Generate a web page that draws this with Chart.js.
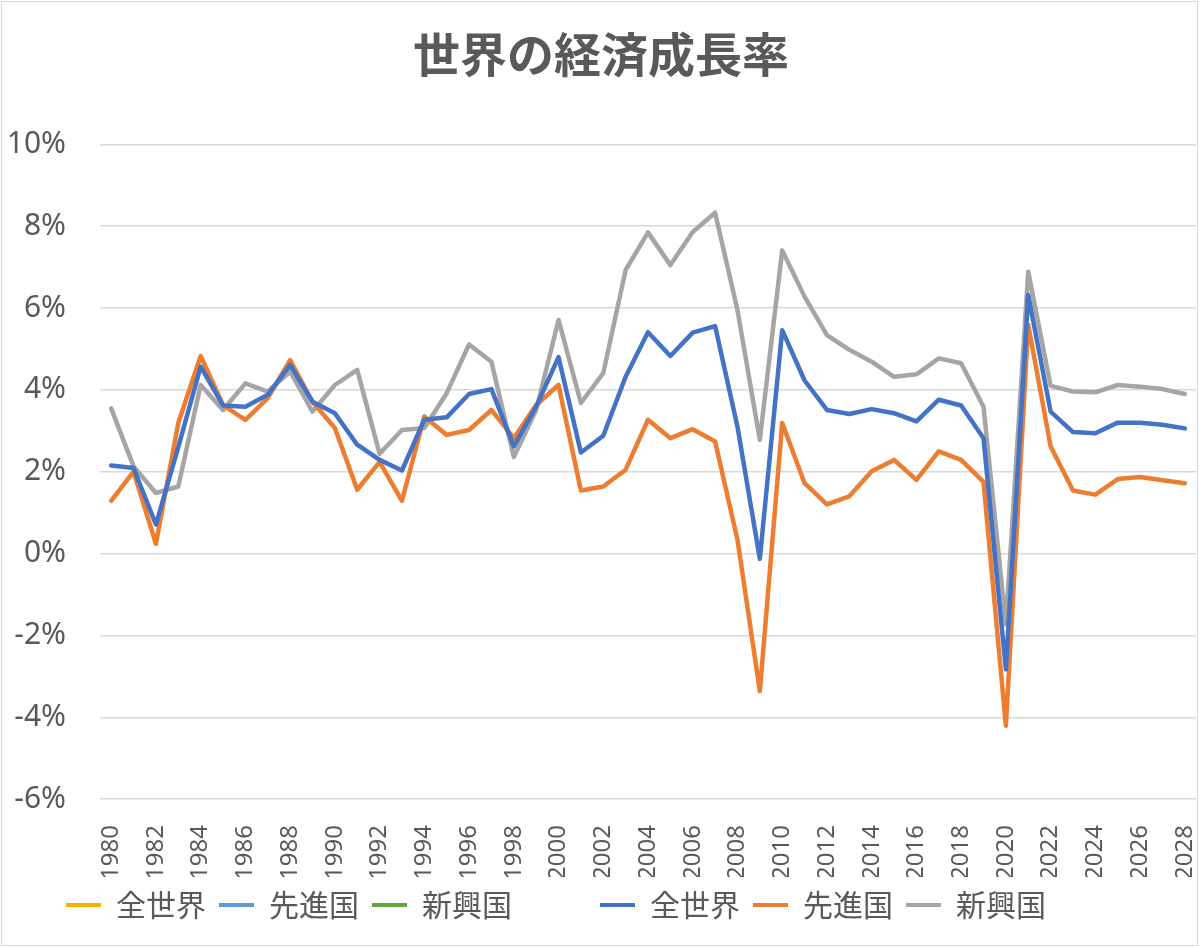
<!DOCTYPE html>
<html lang="ja">
<head>
<meta charset="utf-8">
<script src="https://cdn.jsdelivr.net/npm/chart.js@4"></script>
<style>
  html, body { margin: 0; padding: 0; background: #fff; }
  #wrap { position: absolute; left: 1px; top: 1px; width: 1195px; height: 943px; border: 1px solid #d9d9d9; }
</style>
</head>
<body>
<div id="wrap"><canvas id="growthChart"></canvas></div>
<script>
// 年（1980〜2028）
const years = [];
for (let y = 1980; y <= 2028; y++) years.push(String(y));

// 実質GDP成長率（%）、グラフから読み取り
const world = [
  2.15, 2.09, 0.71, 2.6, 4.57, 3.62, 3.59, 3.88, 4.61, 3.71,
  3.43, 2.66, 2.29, 2.03, 3.27, 3.33, 3.90, 4.02, 2.62, 3.59,
  4.80, 2.47, 2.88, 4.32, 5.41, 4.83, 5.40, 5.56, 3.10, -0.13,
  5.46, 4.23, 3.51, 3.41, 3.53, 3.43, 3.23, 3.76, 3.62, 2.82,
  -2.83, 6.32, 3.47, 2.97, 2.94, 3.20, 3.20, 3.15, 3.06
];
const advanced = [
  1.29, 2.0, 0.24, 3.19, 4.83, 3.63, 3.27, 3.80, 4.73, 3.71,
  3.07, 1.56, 2.24, 1.29, 3.35, 2.90, 3.02, 3.51, 2.82, 3.63,
  4.12, 1.54, 1.64, 2.05, 3.27, 2.82, 3.04, 2.74, 0.34, -3.36,
  3.19, 1.72, 1.20, 1.40, 2.01, 2.29, 1.80, 2.50, 2.29, 1.75,
  -4.21, 5.59, 2.62, 1.54, 1.44, 1.82, 1.87, 1.79, 1.72
];
const emerging = [
  3.55, 2.13, 1.48, 1.64, 4.12, 3.51, 4.16, 3.96, 4.45, 3.47,
  4.12, 4.49, 2.44, 3.02, 3.07, 3.92, 5.11, 4.69, 2.36, 3.51,
  5.71, 3.68, 4.41, 6.93, 7.85, 7.05, 7.86, 8.33, 5.95, 2.78,
  7.41, 6.28, 5.34, 4.98, 4.69, 4.32, 4.38, 4.77, 4.65, 3.59,
  -1.73, 6.89, 4.10, 3.96, 3.94, 4.12, 4.08, 4.02, 3.90
];
// 凡例だけに出る系列（データなし）
const emptySeries = [];

const seriesNames = ['全世界', '先進国', '新興国'];
const textColor = '#595959';
const jpFont = '"Noto Sans CJK JP", "Noto Sans", sans-serif';
const numFont = '"Noto Sans", "Open Sans", sans-serif';

function lineSet(label, data, color) {
  return {
    label: label,
    data: data,
    borderColor: color,
    backgroundColor: color,
    borderWidth: 4.5,
    pointBorderWidth: 4,
    pointRadius: 0,
    pointHoverRadius: 0,
    pointStyle: 'line',
    tension: 0,
    borderCapStyle: 'round',
    borderJoinStyle: 'round'
  };
}

const ctx = document.getElementById('growthChart').getContext('2d');

new Chart(ctx, {
  type: 'line',
  data: {
    labels: years,
    datasets: [
      lineSet(seriesNames[0], emptySeries, '#F2B400'),
      lineSet(seriesNames[1], emptySeries, '#5B9BD5'),
      lineSet(seriesNames[2], emptySeries, '#62A440'),
      lineSet(seriesNames[0], world, '#4472C4'),
      lineSet(seriesNames[1], advanced, '#ED7D31'),
      lineSet(seriesNames[2], emerging, '#A5A5A5')
    ]
  },
  options: {
    responsive: true,
    maintainAspectRatio: false,
    animation: false,
    layout: { padding: { left: 4, right: 1, top: 0, bottom: 15 } },
    plugins: {
      tooltip: { enabled: false },
      title: {
        display: true,
        text: '世界の経済成長率',
        color: textColor,
        font: { family: jpFont, size: 47, weight: 'bold' },
        padding: { top: 24, bottom: 62 }
      },
      legend: {
        position: 'bottom',
        labels: {
          color: textColor,
          font: { family: jpFont, size: 30 },
          usePointStyle: true,
          pointStyleWidth: 35,
          padding: 13,
          generateLabels: function(chart) {
            const items = Chart.defaults.plugins.legend.labels.generateLabels(chart);
            // Excel の凡例の間隔に合わせる
            items[2].text += '\u3000\u3000\u2002';
            items[5].text += '\u3000\u3000\u3000';
            return items;
          }
        }
      }
    },
    scales: {
      x: {
        offset: true,
        grid: { display: false },
        border: { display: false },
        afterFit: function(scale) {
          scale.paddingLeft = 0;
          scale.paddingRight = 0;
          scale.height -= 21;
        },
        ticks: {
          autoSkip: false,
          maxRotation: 90,
          minRotation: 90,
          padding: 18,
          color: textColor,
          font: { family: numFont, size: 24 },
          callback: function(val, i) { return i % 2 === 0 ? years[i] : ''; }
        }
      },
      y: {
        min: -6,
        max: 10,
        grid: { color: '#d9d9d9', lineWidth: 1.5, drawTicks: false },
        border: { display: false },
        afterFit: function(scale) { scale.width = 94; },
        ticks: {
          stepSize: 2,
          padding: 34,
          color: textColor,
          font: { family: numFont, size: 30 },
          callback: function(v) { return v + '%'; }
        }
      }
    }
  }
});
</script>
</body>
</html>
